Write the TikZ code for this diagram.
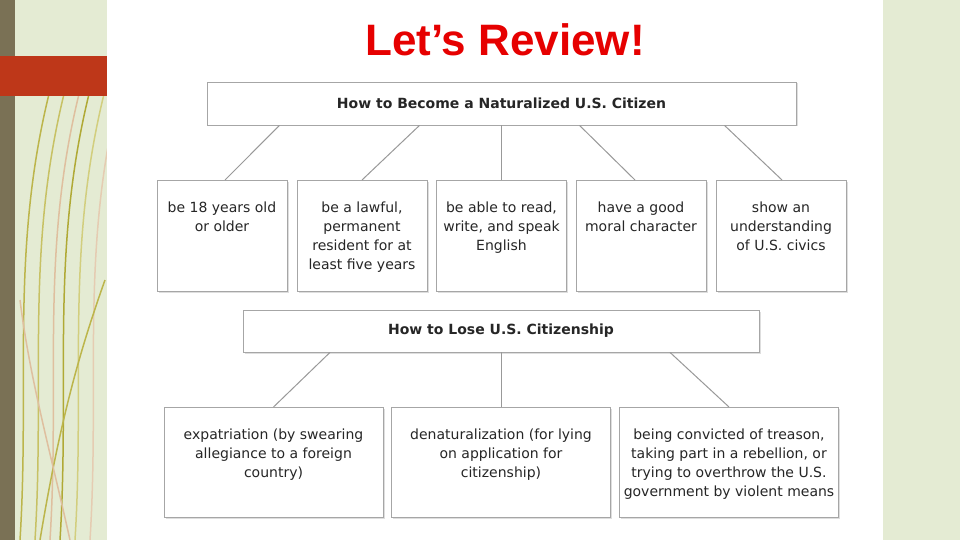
\documentclass[tikz,border=0pt]{standalone}
\usepackage{fontspec}
\setmainfont{DejaVu Sans}
\newfontfamily\titlefont{Liberation Sans}
\usetikzlibrary{shadows}
\definecolor{bgg}{RGB}{228,235,211}
\definecolor{strip}{RGB}{122,113,85}
\definecolor{redbar}{RGB}{190,55,25}
\definecolor{titlered}{RGB}{230,0,0}
\begin{document}
\begin{tikzpicture}[x=1pt,y=-1pt,
  box/.style={draw=black!35,line width=0.8pt,fill=white,
    drop shadow={shadow xshift=1.5pt,shadow yshift=-1.5pt,fill=black!25}},
  hdr/.style={box,font=\fontsize{14}{18}\selectfont\bfseries,text=black!85},
  txt/.style={font=\fontsize{14}{19}\selectfont,align=center,text=black!85,anchor=north},
  conn/.style={draw=black!40,line width=1pt},
  grass/.style={draw=#1,line width=1.5pt}]
\useasboundingbox (0,0) rectangle (960,540);
\fill[bgg] (0,0) rectangle (960,540);
\fill[strip] (0,0) rectangle (15,540);
\foreach \a/\c in {20/olive!60,35/olive!50,50/brown!50,60/olive!70,75/olive!40,90/brown!40}{
  \draw[grass=\c] (\a,540) .. controls (\a+10,380) and (\a-10,250) .. (\a+30,90);
}
\draw[grass=olive!60] (40,540) .. controls (60,420) and (80,350) .. (105,280);
\draw[grass=brown!50] (70,540) .. controls (50,450) and (30,380) .. (20,300);
\fill[white] (107,0) rectangle (883,540);
\fill[redbar] (0,56) rectangle (107,96);
\node[font=\titlefont\fontsize{44}{44}\selectfont\bfseries,text=titlered] (title) at (505,40) {Let’s Review!};
\node[hdr,minimum width=589,minimum height=43] (h1) at (501.5,103.5) {How to Become a Naturalized U.S. Citizen};
\foreach \n/\x/\t in {a/222/{be 18 years old\\or older},
  b/362/{be a lawful,\\permanent\\resident for at\\least five years},
  c/501.5/{be able to read,\\write, and speak\\English},
  d/641/{have a good\\moral character},
  e/781/{show an\\understanding\\of U.S. civics}}{
  \node[box,minimum width=130,minimum height=111,anchor=north] (\n) at (\x,180) {};
  \node[txt] at (\x,198) {\t};
}
\draw[conn] ([xshift=-222]h1.south) -- ([xshift=3]a.north);
\draw[conn] ([xshift=-82]h1.south) -- (b.north);
\draw[conn] (h1.south) -- (c.north);
\draw[conn] ([xshift=78]h1.south) -- ([xshift=-6]d.north);
\draw[conn] ([xshift=223]h1.south) -- ([xshift=1]e.north);
\node[hdr,minimum width=516,minimum height=42] (h2) at (501,331) {How to Lose U.S. Citizenship};
\foreach \n/\x/\t in {f/273.5/{expatriation (by swearing\\allegiance to a foreign\\country)},
  g/501/{denaturalization (for lying\\on application for\\citizenship)},
  h/729/{being convicted of treason,\\taking part in a rebellion, or\\trying to overthrow the U.S.\\government by violent means}}{
  \node[box,minimum width=219,minimum height=110,anchor=north] (\n) at (\x,407) {};
  \node[txt] at (\x,425) {\t};
}
\draw[conn] ([xshift=-171]h2.south) -- (f.north);
\draw[conn] (h2.south) -- (g.north);
\draw[conn] ([xshift=169]h2.south) -- (h.north);
\end{tikzpicture}
\end{document}
